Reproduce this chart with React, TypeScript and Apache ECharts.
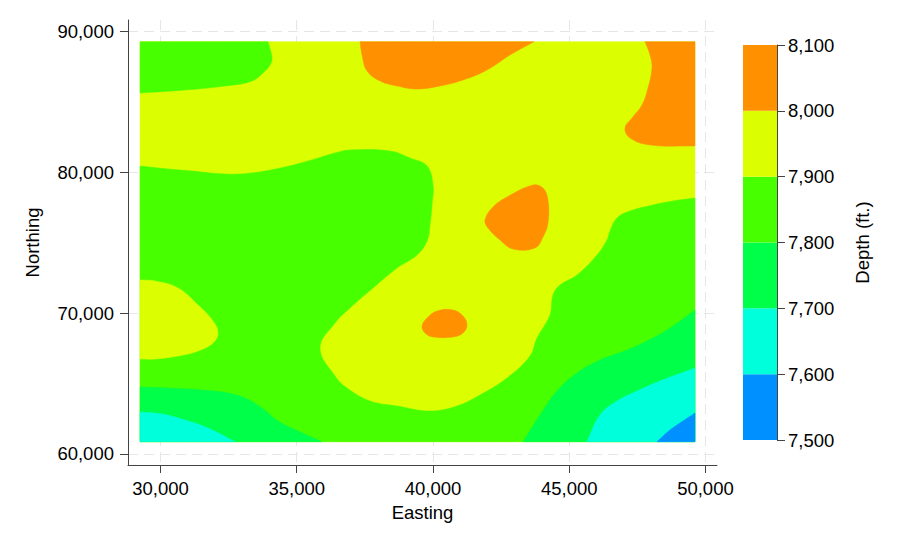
import React, { useEffect, useRef } from "react";
import * as echarts from "echarts";

// Axis ticks
const X_TICKS = [30000, 35000, 40000, 45000, 50000];
const Y_TICKS = [60000, 70000, 80000, 90000];
const X_RANGE = [28807, 50424];
const Y_RANGE = [59218, 90831];

// Contour levels (ft.) and their fill colours
const DEPTH_LEVELS = [7500, 7600, 7700, 7800, 7900, 8000, 8100];
const LEVEL_COLORS = ["#0090FF", "#00FFDB", "#00FF48", "#48FF00", "#DBFF00", "#FF9000"];

// Extent of the gridded data (easting, northing)
const DATA_EASTING = [29250, 49615];
const DATA_NORTHING = [60875, 89290];

// Contour regions: [easting, northing]
const GREEN_NW = [
  [29250, 89290], [33945, 89290], [34092, 88132], [34019, 87634], [33835, 87208],
  [33358, 86498], [32367, 86143], [30899, 85858], [29250, 85645],
];
const GREEN_MAIN = [
  [29250, 80459], [30275, 80246], [31156, 80104], [32367, 79891], [33358, 79962],
  [34569, 80388], [35413, 80814], [36404, 81383], [36955, 81596], [38423, 81525],
  [39157, 81028], [39781, 80459], [40001, 79110], [39964, 77689], [39891, 76268],
  [39781, 75131], [39414, 74137], [38680, 73213], [37799, 71792], [36955, 70372],
  [36404, 69306], [35854, 67530], [36404, 65541], [36845, 64688], [37689, 63765],
  [38680, 63410], [39891, 63054], [40882, 63410], [41726, 64191], [42717, 65399],
  [43561, 66962], [43818, 68240], [44295, 69874], [44405, 71295], [44662, 72005],
  [45286, 72716], [46020, 74137], [46387, 75202], [46497, 75842], [46754, 76765],
  [47231, 77263], [48075, 77689], [48809, 77973], [49615, 78186], [49615, 60875],
  [29250, 60875],
];
const YELLOW_W = [
  [29250, 72361], [29798, 72290], [30642, 71792], [31376, 70585], [31927, 69448],
  [32110, 68596], [31927, 67885], [31376, 67317], [30642, 66962], [29798, 66749],
  [29250, 66749],
];
const ORANGE_N = [
  [37322, 89290], [37395, 88345], [37579, 87208], [38056, 86498], [38680, 86143],
  [39414, 85929], [40258, 86143], [41102, 86569], [41983, 87279], [42827, 88345],
  [43707, 89290],
];
const ORANGE_NE = [
  [47781, 89290], [47965, 88345], [48038, 87421], [47891, 86000], [47671, 84793],
  [47304, 83869], [47047, 83159], [47231, 82448], [47965, 81951], [49615, 81880],
  [49615, 89290],
];
const ORANGE_E = [
  [41909, 76623], [42203, 77547], [42717, 78257], [43671, 79110], [44038, 78896],
  [44221, 78044], [44221, 76410], [44038, 75415], [43744, 74634], [42937, 74563],
  [42460, 75202], [42019, 76055],
];
const ORANGE_C = [
  [39597, 69093], [39781, 69661], [40148, 70159], [40735, 70230], [41102, 69803],
  [41249, 69164], [41102, 68596], [40735, 68311], [40001, 68311], [39707, 68596],
];
const SPRING_SW = [
  [29250, 64760], [30275, 64688], [31523, 64546], [32477, 64333], [33101, 63978],
  [33725, 63268], [34312, 62344], [35046, 61634], [35927, 60875], [29250, 60875],
];
const SPRING_SE = [
  [43304, 60875], [43928, 62770], [44552, 64475], [45286, 65754], [46130, 66678],
  [47121, 67388], [48075, 68240], [48809, 69093], [49615, 70230], [49615, 60875],
];
const CYAN_SW = [
  [29250, 62983], [30055, 62841], [30899, 62415], [31743, 61847], [32734, 60875],
  [29250, 60875],
];
const CYAN_SE = [
  [45653, 60875], [46130, 62770], [46754, 63765], [47488, 64475], [48332, 65186],
  [49615, 66109], [49615, 60875],
];
const BLUE_SE = [
  [48222, 60875], [48699, 61705], [49176, 62344], [49615, 62913], [49615, 60875],
];

const FONT = "'Liberation Sans', Arial, sans-serif";
const FS = 18.5;
const fmt = (v: number) => Math.round(v).toLocaleString("en-US");

export default function App() {
  const ref = useRef<HTMLDivElement>(null);

  useEffect(() => {
    if (!ref.current) return;
    const chart = echarts.init(ref.current, undefined, { renderer: "svg" });

    const base = [
      [DATA_EASTING[0], DATA_NORTHING[0]],
      [DATA_EASTING[1], DATA_NORTHING[0]],
      [DATA_EASTING[1], DATA_NORTHING[1]],
      [DATA_EASTING[0], DATA_NORTHING[1]],
    ];
    // drawing order (painter's algorithm), with level index into LEVEL_COLORS
    const regions: { pts: number[][]; level: number }[] = [
      { pts: base, level: 4 },
      { pts: GREEN_NW, level: 3 },
      { pts: GREEN_MAIN, level: 3 },
      { pts: YELLOW_W, level: 4 },
      { pts: ORANGE_N, level: 5 },
      { pts: ORANGE_NE, level: 5 },
      { pts: ORANGE_E, level: 5 },
      { pts: ORANGE_C, level: 5 },
      { pts: SPRING_SW, level: 2 },
      { pts: SPRING_SE, level: 2 },
      { pts: CYAN_SW, level: 1 },
      { pts: CYAN_SE, level: 1 },
      { pts: BLUE_SE, level: 0 },
    ];

    const onEdge = (p: number[]) =>
      p[0] === DATA_EASTING[0] || p[0] === DATA_EASTING[1] ||
      p[1] === DATA_NORTHING[0] || p[1] === DATA_NORTHING[1];

    const bands = LEVEL_COLORS.map((c, i) => [0, DEPTH_LEVELS[i], DEPTH_LEVELS[i + 1], i]);

    const axisLineStyle = { color: "#444", width: 1 };

    chart.setOption({
      animation: false,
      textStyle: { fontFamily: FONT },
      grid: [
        { left: 128, top: 20, width: 589, height: 445 },
        { left: 743, top: 45, width: 34, height: 395 },
      ],
      xAxis: [
        {
          type: "value",
          gridIndex: 0,
          min: X_RANGE[0],
          max: X_RANGE[1],
          name: "Easting",
          nameLocation: "middle",
          nameGap: 38,
          nameTextStyle: { fontSize: FS, color: "#000", fontFamily: FONT },
          axisLine: { show: true, onZero: false, lineStyle: axisLineStyle },
          axisTick: { show: true, length: 8, customValues: X_TICKS, lineStyle: axisLineStyle },
          axisLabel: { customValues: X_TICKS, fontSize: FS, color: "#000", margin: 14, formatter: fmt, fontFamily: FONT },
          splitLine: { show: true, lineStyle: { color: "#e6e6e6", type: [10, 6], width: 1 } },
        },
        {
          type: "value",
          gridIndex: 1,
          min: 0,
          max: 1,
          show: false,
          axisLine: { show: false },
          axisTick: { show: false },
          axisLabel: { show: false },
          splitLine: { show: false },
        },
      ],
      yAxis: [
        {
          type: "value",
          gridIndex: 0,
          min: Y_RANGE[0],
          max: Y_RANGE[1],
          name: "Northing",
          nameLocation: "middle",
          nameGap: 86,
          nameRotate: 90,
          nameTextStyle: { fontSize: FS, color: "#000", fontFamily: FONT },
          axisLine: { show: true, onZero: false, lineStyle: axisLineStyle },
          axisTick: { show: true, length: 8, customValues: Y_TICKS, lineStyle: axisLineStyle },
          axisLabel: { customValues: Y_TICKS, fontSize: FS, color: "#000", margin: 14, formatter: fmt, fontFamily: FONT },
          splitLine: { show: true, lineStyle: { color: "#e6e6e6", type: [10, 6], width: 1 } },
        },
        {
          type: "value",
          gridIndex: 1,
          position: "right",
          min: DEPTH_LEVELS[0],
          max: DEPTH_LEVELS[DEPTH_LEVELS.length - 1],
          interval: 100,
          name: "Depth (ft.)",
          nameLocation: "middle",
          nameGap: 76,
          nameRotate: 90,
          nameTextStyle: { fontSize: FS, color: "#000", fontFamily: FONT },
          axisLine: { show: true, onZero: false, lineStyle: axisLineStyle },
          axisTick: { show: true, length: 8, lineStyle: axisLineStyle },
          axisLabel: { fontSize: FS, color: "#000", margin: 11, formatter: fmt, fontFamily: FONT },
          splitLine: { show: false },
        },
      ],
      series: [
        {
          type: "custom",
          xAxisIndex: 0,
          yAxisIndex: 0,
          z: 10,
          clip: true,
          data: regions.map((r, i) => [r.pts[0][0], r.pts[0][1], i]),
          renderItem: (params: any, api: any) => {
            const r = regions[params.dataIndex];
            const pts: number[][] = [];
            r.pts.forEach((p) => {
              const c = api.coord(p);
              pts.push(c);
              if (onEdge(p)) pts.push([c[0], c[1]]);
            });
            const lo = api.coord([DATA_EASTING[0], DATA_NORTHING[0]]);
            const hi = api.coord([DATA_EASTING[1], DATA_NORTHING[1]]);
            return {
              type: "polygon",
              shape: {
                points: pts,
                smooth: 0.4,
                smoothConstraint: [[lo[0], hi[1]], [hi[0], lo[1]]],
              },
              style: { fill: LEVEL_COLORS[r.level], stroke: LEVEL_COLORS[r.level], lineWidth: 0.5 },
            };
          },
        },
        {
          type: "custom",
          xAxisIndex: 1,
          yAxisIndex: 1,
          z: 10,
          data: bands,
          renderItem: (params: any, api: any) => {
            const b = bands[params.dataIndex];
            const p0 = api.coord([0, b[1]]);
            const p1 = api.coord([1, b[2]]);
            return {
              type: "rect",
              shape: { x: p0[0], y: p1[1], width: p1[0] - p0[0], height: p0[1] - p1[1] },
              style: { fill: LEVEL_COLORS[b[3]] },
            };
          },
        },
      ],
    });

    return () => chart.dispose();
  }, []);

  return (
    <div
      ref={ref}
      style={{ position: "fixed", left: 0, top: 0, width: 910, height: 546, background: "#fff" }}
    />
  );
}
